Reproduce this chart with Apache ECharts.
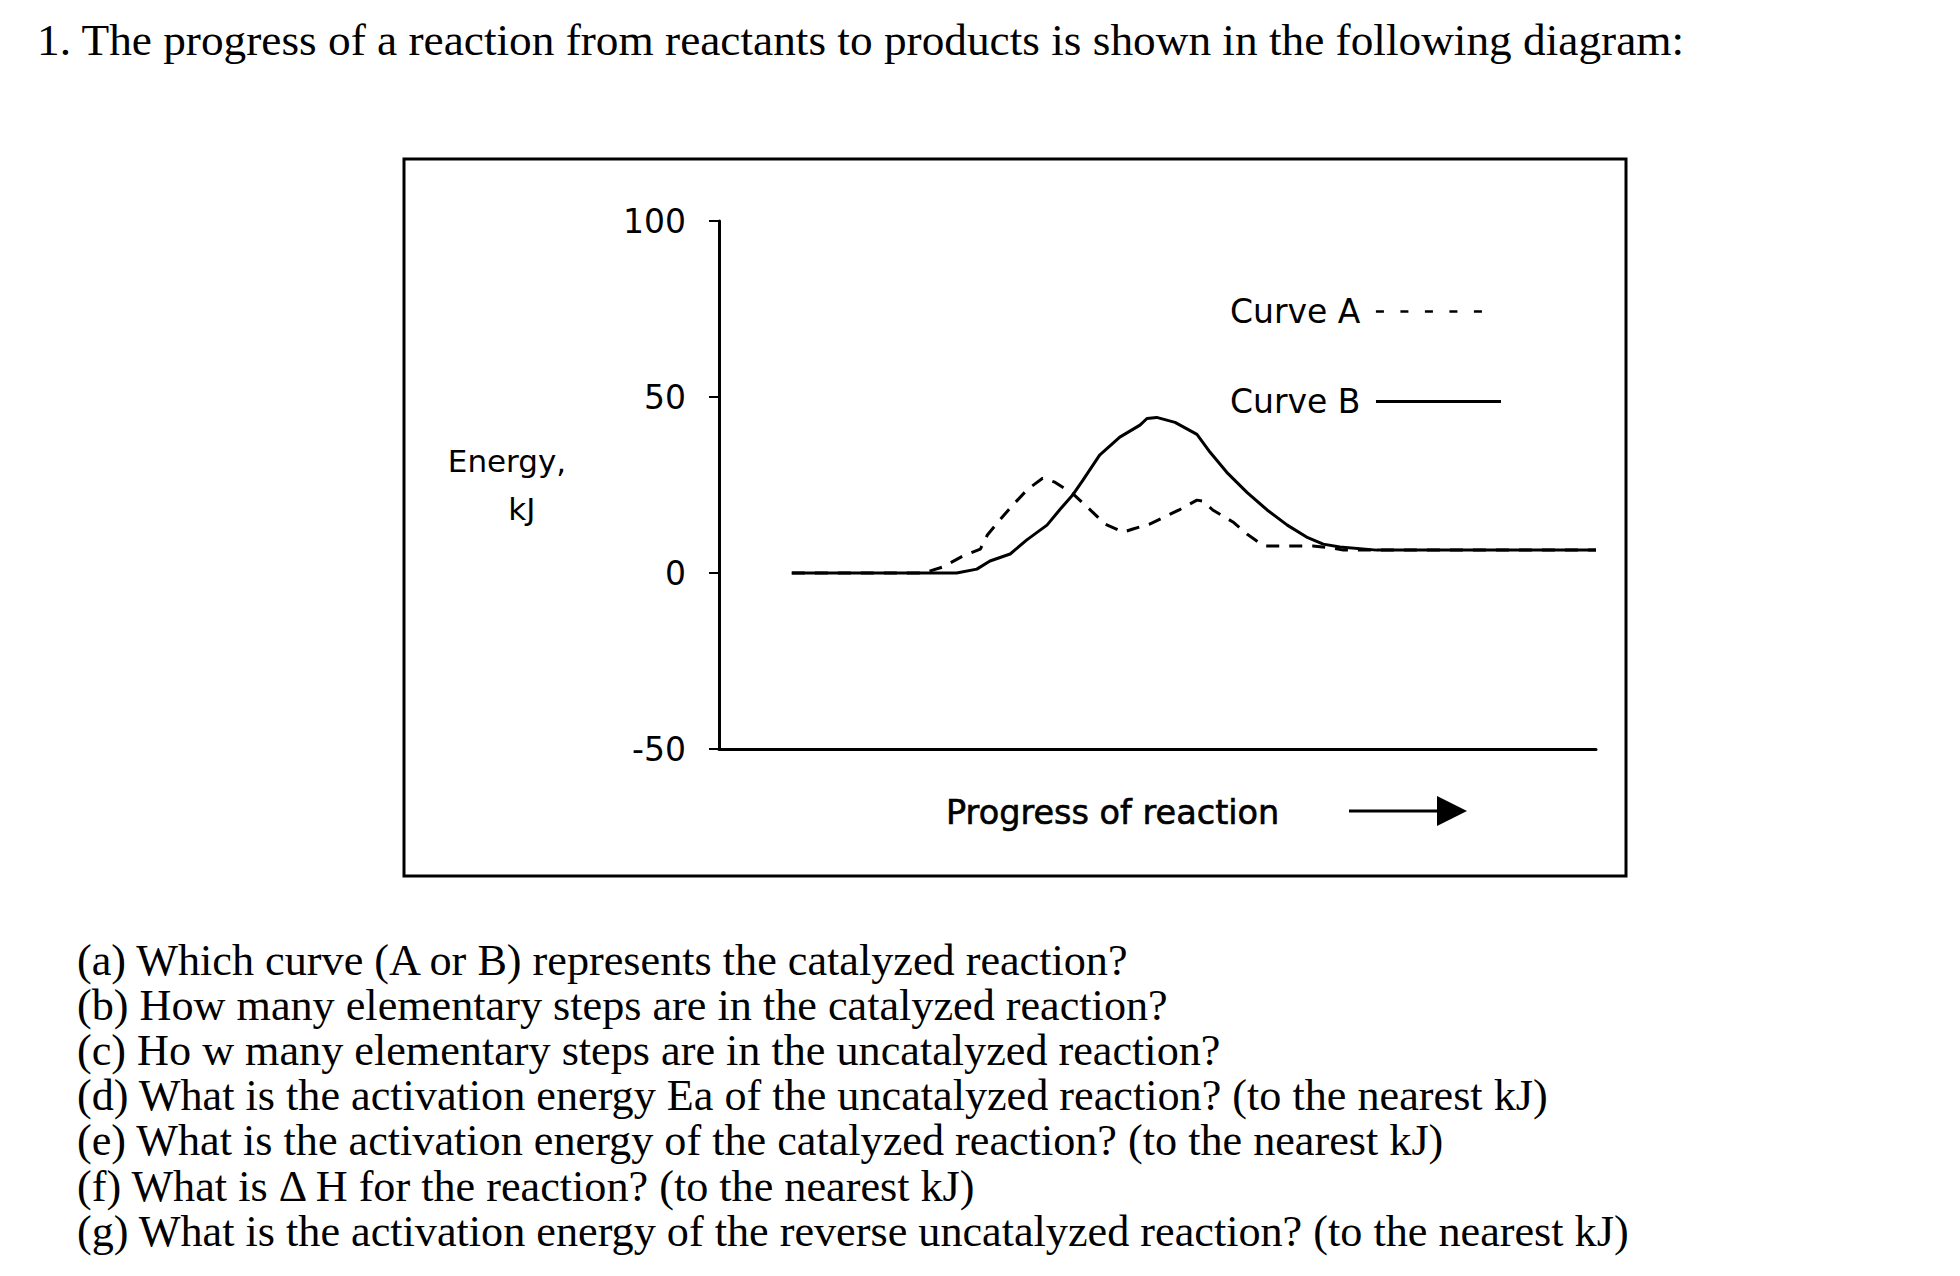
<!DOCTYPE html>
<html>
<head>
<meta charset="utf-8">
<title>Progress of reaction</title>
<script src="https://cdn.jsdelivr.net/npm/echarts@6/dist/echarts.min.js"></script>
<style>
  html, body { margin: 0; padding: 0; background: #fff; }
  #J_chartBox { width: 1960px; height: 1276px; }
</style>
</head>
<body>
<div id="J_chartBox"></div>
<script>
  // energy axis ticks (kJ)
  var energyTicks = [-50, 0, 50, 100];

  // Curve A (dashed): progress of reaction (0-100) and energy (kJ)
  var progressA = [8.3, 23.3, 25.5, 27.8, 29.8, 30.6, 32.0, 33.5, 35.2, 36.9, 38.3, 40.4, 42.6, 44.0, 46.1, 47.2, 49.1, 52.6, 54.5, 55.2, 56.3, 58.6, 60.2, 62.0, 62.5, 67.7, 70.0, 71.2, 100];
  var energyA = [0, 0, 1.7, 4.8, 6.8, 10.8, 15.0, 19.3, 23.8, 26.9, 25.8, 22.4, 17.3, 13.9, 11.6, 12.5, 13.9, 18.1, 20.7, 20.4, 17.9, 14.5, 11.1, 7.9, 7.7, 7.7, 7.1, 6.5, 6.5];

  // Curve B (solid)
  var progressB = [8.3, 27.1, 29.4, 30.9, 33.2, 35.1, 37.4, 38.9, 40.4, 41.5, 43.4, 45.7, 48.0, 48.8, 49.9, 52.0, 54.5, 56.0, 57.9, 60.2, 62.5, 64.8, 67.0, 68.9, 70.8, 75.0, 100];
  var energyB = [0, 0, 1.1, 3.4, 5.4, 9.4, 13.6, 18.1, 22.4, 26.4, 33.5, 38.6, 42.0, 43.9, 44.2, 42.8, 39.4, 34.3, 28.6, 22.9, 17.9, 13.6, 10.2, 8.2, 7.4, 6.5, 6.5];

  var curveNames = ['Curve A', 'Curve B'];

  var titleText = '1. The progress of a reaction from reactants to products is shown in the following diagram:';
  var questions = [
    '(a) Which curve (A or B) represents the catalyzed reaction?',
    '(b) How many elementary steps are in the catalyzed reaction?',
    '(c) Ho w many elementary steps are in the uncatalyzed reaction?',
    '(d) What is the activation energy Ea of the uncatalyzed reaction? (to the nearest kJ)',
    '(e) What is the activation energy of the catalyzed reaction? (to the nearest kJ)',
    '(f) What is \u0394 H for the reaction? (to the nearest kJ)',
    '(g) What is the activation energy of the reverse uncatalyzed reaction? (to the nearest kJ)'
  ];

  var sans = 'DejaVu Sans';
  var serif = 'Liberation Serif';

  function pairs (xs, ys) {
    return xs.map(function (x, i) { return [x, ys[i]] })
  }

  var graphics = [
    // frame round the chart
    { type: 'rect', shape: { x: 404, y: 159, width: 1222, height: 717 },
      style: { fill: 'none', stroke: '#000', lineWidth: 3 } },
    { type: 'text', x: 37, y: 40,
      style: { text: titleText, fontFamily: serif, fontSize: 45.3, fill: '#000', align: 'left', verticalAlign: 'middle' } },
    // x axis caption with arrow
    { type: 'text', x: 946, y: 812,
      style: { text: 'Progress of reaction', fontFamily: sans, fontSize: 33.5, fill: '#000', align: 'left', verticalAlign: 'middle',
        stroke: '#000', lineWidth: 0.6 } },
    { type: 'line', shape: { x1: 1349, y1: 811, x2: 1440, y2: 811 }, style: { stroke: '#000', lineWidth: 3 } },
    { type: 'polygon', shape: { points: [[1437, 796], [1467, 811], [1437, 826]] }, style: { fill: '#000' } }
  ];
  questions.forEach(function (q, i) {
    graphics.push({ type: 'text', x: 77, y: 960 + i * 45.2,
      style: { text: q, fontFamily: serif, fontSize: 44.2, fill: '#000', align: 'left', verticalAlign: 'middle' } })
  });

  var legendText = { fontFamily: sans, fontSize: 33, color: '#000' };

  var option = {
    animation: false,
    backgroundColor: '#fff',
    grid: { left: 719, right: 364, top: 221, bottom: 527, containLabel: false, outerBoundsMode: 'none' },
    legend: [
      {
        data: [{ name: curveNames[0], lineStyle: { type: [8, 16.5], width: 2.5, color: '#000' }, itemStyle: { opacity: 0 } }],
        selectedMode: false, orient: 'horizontal', align: 'right',
        left: 1225, top: 290, itemWidth: 106, itemHeight: 32,
        formatter: '{name} ', textStyle: legendText
      },
      {
        data: [{ name: curveNames[1], lineStyle: { type: 'solid', width: 3, color: '#000' }, itemStyle: { opacity: 0 } }],
        selectedMode: false, orient: 'horizontal', align: 'right',
        left: 1225, top: 380, itemWidth: 125, itemHeight: 32,
        formatter: '{name} ', textStyle: legendText
      }
    ],
    xAxis: {
      type: 'value', min: 0, max: 100,
      axisLine: { show: true, onZero: false, lineStyle: { color: '#000', width: 3 } },
      axisTick: { show: false },
      axisLabel: { show: false },
      splitLine: { show: false }
    },
    yAxis: {
      type: 'value',
      min: energyTicks[0], max: energyTicks[energyTicks.length - 1],
      interval: energyTicks[1] - energyTicks[0],
      name: 'Energy,\n   kJ',
      nameLocation: 'middle', nameRotate: 0, nameGap: 212,
      nameTextStyle: { fontFamily: sans, fontSize: 31, color: '#000', align: 'center', lineHeight: 48, padding: [6, 0, 0, 0] },
      axisLine: { show: true, lineStyle: { color: '#000', width: 3 } },
      axisTick: { show: true, length: 10, lineStyle: { color: '#000', width: 2 } },
      axisLabel: { margin: 33, fontFamily: sans, fontSize: 33, color: '#000' },
      splitLine: { show: false }
    },
    series: [
      {
        name: curveNames[1], type: 'line', symbol: 'none', showSymbol: false,
        lineStyle: { color: '#000', width: 3 },
        data: pairs(progressB, energyB)
      },
      {
        name: curveNames[0], type: 'line', symbol: 'none', showSymbol: false,
        lineStyle: { color: '#000', width: 3, type: [13, 10] },
        data: pairs(progressA, energyA)
      }
    ],
    graphic: graphics
  };

  var chart = echarts.init(document.getElementById('J_chartBox'), null, { renderer: 'svg' });
  chart.setOption(option);
  window.addEventListener('resize', function () {
    chart.resize()
  })
</script>
</body>
</html>
